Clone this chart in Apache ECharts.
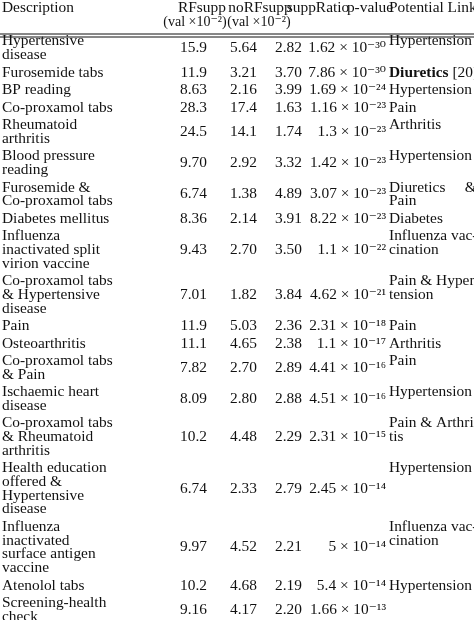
<!DOCTYPE html>
<html><head><meta charset="utf-8">
<script src="https://cdn.jsdelivr.net/npm/echarts@6/dist/echarts.min.js"></script>
<style>html,body{margin:0;padding:0;background:#fff}#c{width:474px;height:620px}</style>
</head><body><div id="c"></div>
<script>
const headers = ["Description","RFsupp","noRFsupp","suppRatio","p-value","Potential Link"];
const subHeaders = ["","(val ×10⁻²)","(val ×10⁻²)","","",""];
const descriptions = [
 ["Hypertensive","disease"],["Furosemide tabs"],["BP reading"],["Co-proxamol tabs"],
 ["Rheumatoid","arthritis"],["Blood pressure","reading"],["Furosemide &","Co-proxamol tabs"],
 ["Diabetes mellitus"],["Influenza","inactivated split","virion vaccine"],
 ["Co-proxamol tabs","& Hypertensive","disease"],["Pain"],["Osteoarthritis"],
 ["Co-proxamol tabs","& Pain"],["Ischaemic heart","disease"],
 ["Co-proxamol tabs","& Rheumatoid","arthritis"],
 ["Health education","offered &","Hypertensive","disease"],
 ["Influenza","inactivated","surface antigen","vaccine"],["Atenolol tabs"],["Screening-health","check"]
];
const rfSupp = ["15.9","11.9","8.63","28.3","24.5","9.70","6.74","8.36","9.43","7.01","11.9","11.1","7.82","8.09","10.2","6.74","9.97","10.2","9.16"];
const noRfSupp = ["5.64","3.21","2.16","17.4","14.1","2.92","1.38","2.14","2.70","1.82","5.03","4.65","2.70","2.80","4.48","2.33","4.52","4.68","4.17"];
const suppRatio = ["2.82","3.70","3.99","1.63","1.74","3.32","4.89","3.91","3.50","3.84","2.36","2.38","2.89","2.88","2.29","2.79","2.21","2.19","2.20"];
const pMantissa = ["1.62","7.86","1.69","1.16","1.3","1.42","3.07","8.22","1.1","4.62","2.31","1.1","4.41","4.51","2.31","2.45","5","5.4","1.66"];
const pExponent = [-30,-30,-24,-23,-23,-23,-23,-23,-22,-21,-18,-17,-16,-16,-15,-14,-14,-14,-13];
const links = [
 ["Hypertension"],["{b|Diuretics} [20]"],["Hypertension"],["Pain"],["Arthritis"],["Hypertension"],
 ["Diuretics     &","Pain"],["Diabetes"],["Influenza vac-","cination"],["Pain & Hyper-","tension"],
 ["Pain"],["Arthritis"],["Pain"],["Hypertension"],["Pain & Arthri-","tis"],["Hypertension"],
 ["Influenza vac-","cination"],["Hypertension"],[""]
];

const supMap = {"-":"⁻","0":"⁰","1":"¹","2":"²","3":"³","4":"⁴","5":"⁵","6":"⁶","7":"⁷","8":"⁸","9":"⁹"};
const sup = n => String(n).split("").map(c=>supMap[c]).join("");

const FONT = "'Liberation Serif', 'DejaVu Serif', serif";
const FS = 14, LH = 13.7, PAD = 3.8, SX = 1.1;
const g = [];
function txt(x,y,t,align,sx){
  g.push({type:'text',x:x,y:y,scaleX:sx==null?SX:sx,style:{text:t,fill:'#111',font:FS+'px '+FONT,
    align:align||'left',verticalAlign:'middle',
    rich:{b:{fontWeight:'bold',fontSize:FS,fontFamily:FONT,fill:'#111'}}}});
}
// header
txt(2,8,headers[0]); txt(202,8,headers[1],'center'); txt(260,8,headers[2],'center');
txt(318,8,headers[3],'center'); txt(370,8,headers[4],'center'); txt(389,8,headers[5]);
txt(195,22,subHeaders[1],'center',1); txt(259,22,subHeaders[2],'center',1);
g.push({type:'line',shape:{x1:0,y1:34,x2:474,y2:34},style:{stroke:'#111',lineWidth:1}});
g.push({type:'line',shape:{x1:0,y1:37,x2:474,y2:37},style:{stroke:'#111',lineWidth:1}});

let y = 33;
descriptions.forEach((d,i)=>{
  const n = Math.max(d.length, links[i].length);
  const h = n*LH + PAD;
  const top = y + PAD/2;
  d.forEach((l,k)=>txt(2, top + LH*(k+0.5), l));
  links[i].forEach((l,k)=>txt(389, top + LH*(k+0.5), l));
  const c = y + h/2;
  txt(207,c,rfSupp[i],'right'); txt(257,c,noRfSupp[i],'right'); txt(302,c,suppRatio[i],'right');
  txt(386,c,pMantissa[i]+" × 10"+sup(pExponent[i]),'right');
  y += h;
});

const chart = echarts.init(document.getElementById('c'));
chart.setOption({animation:false,graphic:g});
</script></body></html>
